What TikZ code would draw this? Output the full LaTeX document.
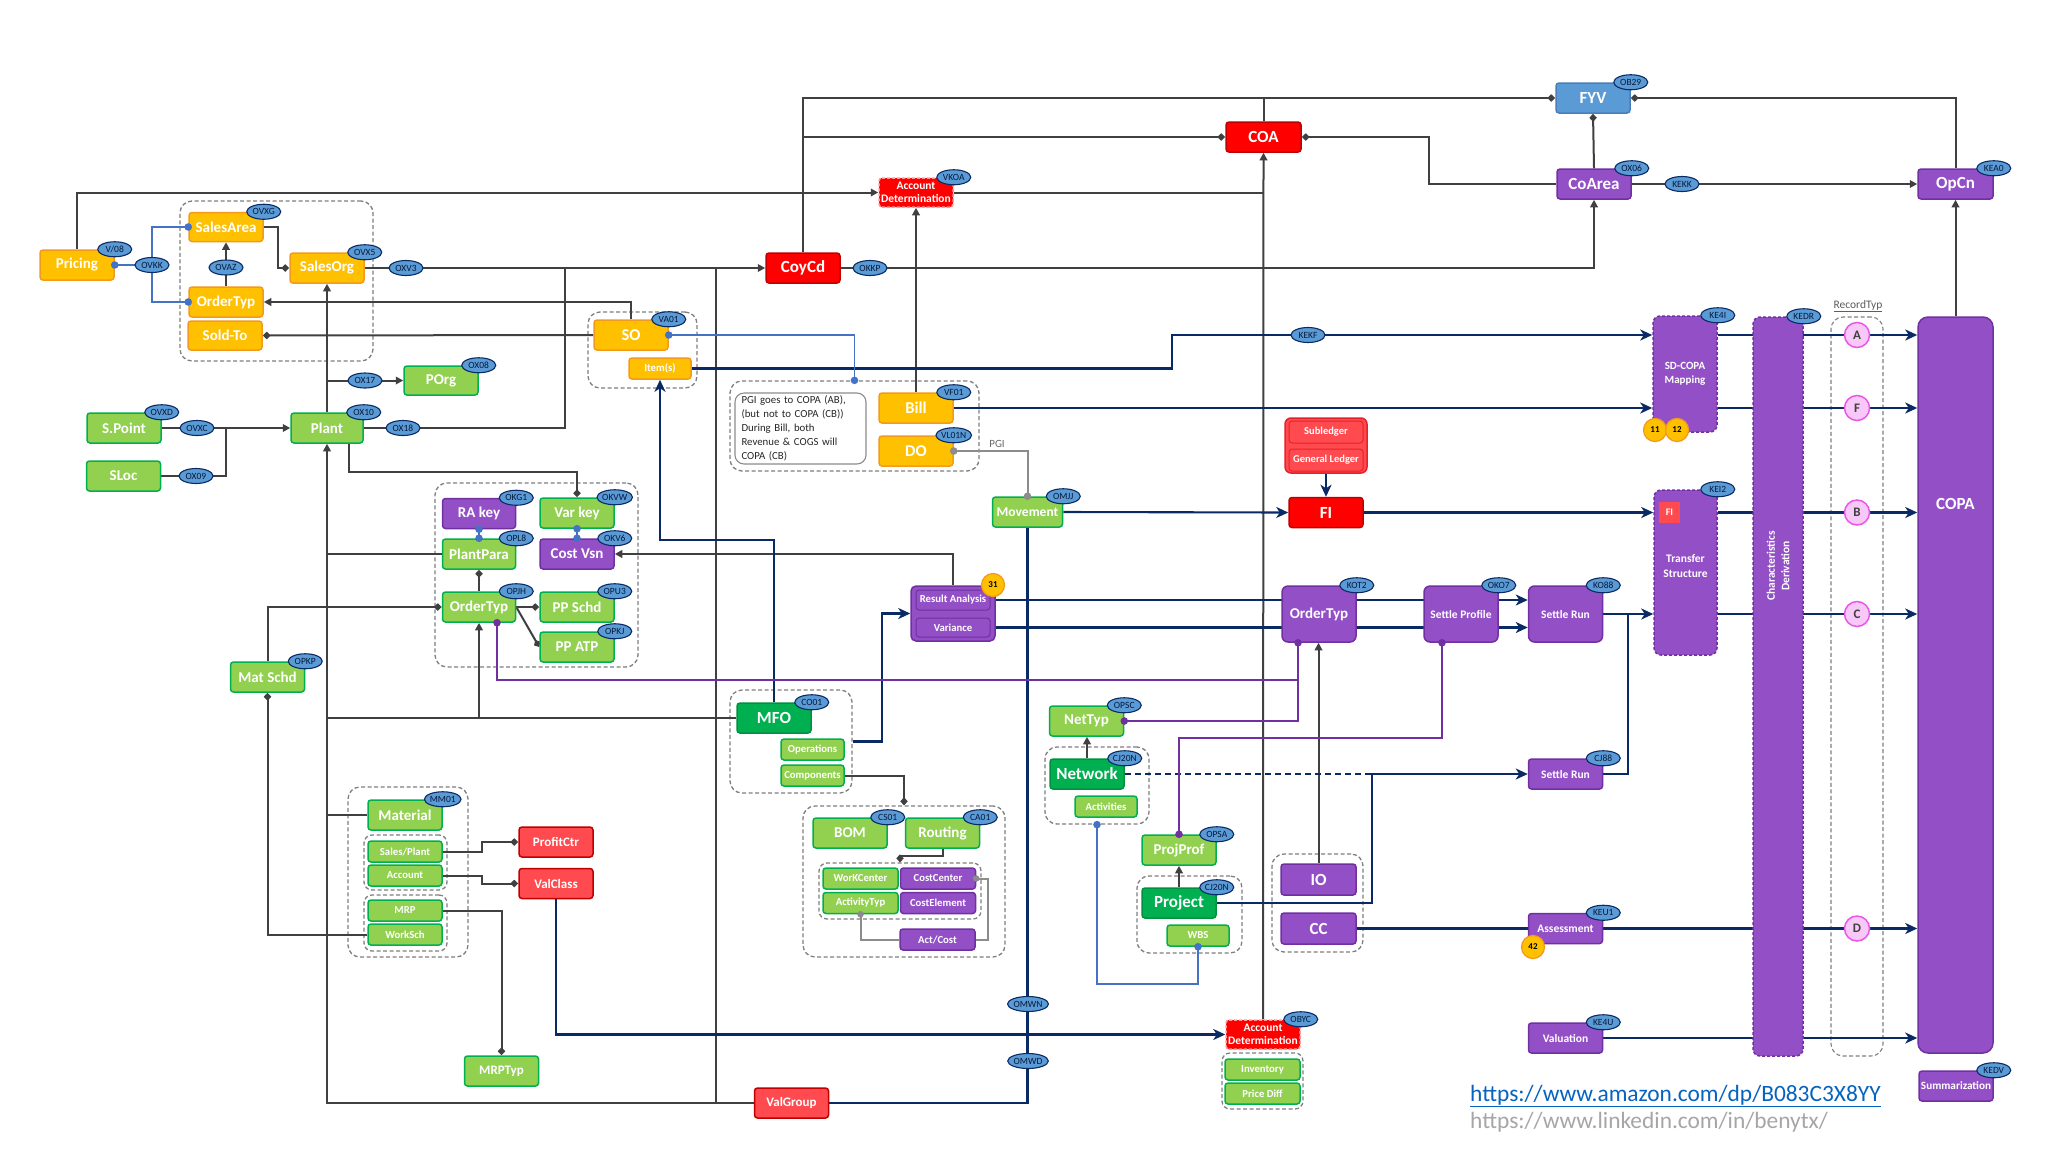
\documentclass[tikz,border=0pt]{standalone}
\usepackage{fontspec}
\setmainfont{Carlito}
\usetikzlibrary{arrows.meta,shapes.geometric}
\pgfdeclarelayer{bg}
\pgfdeclarelayer{ln}
\pgfsetlayers{bg,ln,main}
\definecolor{cOrgF}{HTML}{FFC000}
\definecolor{cOrgD}{HTML}{F39A1E}
\definecolor{cGrnF}{HTML}{92D050}
\definecolor{cGrnD}{HTML}{00B050}
\definecolor{cDgF}{HTML}{00B050}
\definecolor{cDgD}{HTML}{00913F}
\definecolor{cRedF}{HTML}{FF0000}
\definecolor{cRedD}{HTML}{C00000}
\definecolor{cLrF}{HTML}{FF4A4F}
\definecolor{cLrD}{HTML}{E8202A}
\definecolor{cPurF}{HTML}{9350C6}
\definecolor{cPurD}{HTML}{7030A0}
\definecolor{cBluF}{HTML}{5B9BD5}
\definecolor{cBluD}{HTML}{4A7EBB}
\definecolor{cTagF}{HTML}{5B9BD5}
\definecolor{cNavy}{HTML}{0A2A66}
\definecolor{cGry}{HTML}{404040}
\definecolor{cMg}{HTML}{8C8C8C}
\definecolor{cLb}{HTML}{4472C4}
\definecolor{cPl}{HTML}{7030A0}
\definecolor{cDash}{HTML}{7F7F7F}
\definecolor{cPinkF}{HTML}{F8C8F8}
\definecolor{cPinkD}{HTML}{E858E8}
\definecolor{cLink}{HTML}{0563C1}
\definecolor{cLinkG}{HTML}{A6A6A6}
\definecolor{cAdD}{HTML}{FF9A9A}
\tikzset{
  bx/.style={rectangle, rounded corners=3pt, line width=1.5pt, text=white, inner sep=0pt, align=center, minimum width=74pt, minimum height=30pt, font=\bfseries\fontsize{15}{17}\selectfont},
  sm/.style={minimum height=21pt, font=\bfseries\fontsize{10.7}{12}\selectfont},
  tall/.style={minimum height=56pt},
  f17/.style={font=\bfseries\fontsize{17}{19}\selectfont},
  f165/.style={font=\bfseries\fontsize{16.5}{18}\selectfont},
  f135/.style={font=\bfseries\fontsize{13.5}{15}\selectfont},
  f13/.style={font=\bfseries\fontsize{13}{15}\selectfont},
  f115/.style={font=\bfseries\fontsize{11.5}{13.5}\selectfont},
  ob/.style={bx, fill=cOrgF, draw=cOrgD},
  gb/.style={bx, fill=cGrnF, draw=cGrnD},
  db/.style={bx, fill=cDgF, draw=cDgD, f17},
  rb/.style={bx, fill=cRedF, draw=cRedD},
  lrb/.style={bx, fill=cLrF, draw=cRedD, f13},
  pb/.style={bx, fill=cPurF, draw=cPurD},
  adb/.style={bx, fill=cRedF, draw=cAdD, dash pattern=on 3pt off 2pt, minimum height=29pt, f115},
  tg/.style={ellipse, fill=cTagF, draw=cNavy, line width=1.1pt, minimum width=34pt, minimum height=15pt, inner sep=0pt, text=cNavy!60!black, font=\fontsize{9.5}{10}\selectfont},
  grp/.style={rectangle, draw=cDash, dash pattern=on 4pt off 2.5pt, line width=1.3pt, rounded corners=12pt, inner sep=0pt},
  gl/.style={draw=cGry, line width=2pt},
  ml/.style={draw=cMg, line width=2pt},
  nl/.style={draw=cNavy, line width=2.1pt},
  bl/.style={draw=cLb, line width=1.9pt},
  pl/.style={draw=cPl, line width=1.9pt},
  lc/.style={circle, fill=cPinkF, draw=cPinkD, line width=1.5pt, minimum size=25pt, inner sep=0pt, text=cGry, font=\bfseries\fontsize{13}{14}\selectfont},
  oc/.style={circle, fill=cOrgF, draw=cOrgD, line width=1.3pt, minimum size=23pt, inner sep=0pt, text=black, font=\bfseries\fontsize{9}{10}\selectfont},
  aT/.style={-{Triangle[length=7.5pt,width=7.5pt]}},
  aS/.style={-{Stealth[length=12pt,width=11pt,inset=3.5pt]}},
  eD/.style={-{Diamond[length=8pt,width=7.5pt]}},
  sD/.style={{Diamond[length=8pt,width=7.5pt]}-},
}
\begin{document}
\begin{tikzpicture}[x=1pt,y=-1pt]
\useasboundingbox (0,0) rectangle (2048,1152);
\begin{pgfonlayer}{bg}
\fill[white] (0,0) rectangle (2048,1152);
\node[grp, minimum width=193pt, minimum height=160pt] (sdgrp) at (276.5,281) {};
\node[grp, minimum width=109pt, minimum height=76pt] (sogrp) at (642.5,350) {};
\node[grp, minimum width=249pt, minimum height=90pt] (billgrp) at (854.5,426) {};
\node[grp, minimum width=203pt, minimum height=184pt] (ppgrp) at (536.5,575) {};
\node[grp, minimum width=122pt, minimum height=103pt] (mfogrp) at (791,741.5) {};
\node[grp, minimum width=202pt, minimum height=151pt] (bomgrp) at (904,881.5) {};
\node[grp, minimum width=162pt, minimum height=56pt, rounded corners=8pt] (innergrp) at (900,891) {};
\node[grp, minimum width=120pt, minimum height=170pt] (matgrp) at (408,872) {};
\node[grp, minimum width=83pt, minimum height=55pt, rounded corners=8pt] (matin1) at (405.5,862.5) {};
\node[grp, minimum width=83pt, minimum height=56pt, rounded corners=8pt] (matin2) at (405.5,923) {};
\node[grp, minimum width=104pt, minimum height=77pt] (netgrp) at (1097,785.5) {};
\node[grp, minimum width=105pt, minimum height=77pt] (projgrp) at (1189.5,914.5) {};
\node[grp, minimum width=91pt, minimum height=98pt] (iogrp) at (1317.5,903) {};
\node[grp, minimum width=81pt, minimum height=56pt, rounded corners=8pt] (invgrp) at (1262.5,1081) {};
\node[grp, minimum width=52pt, minimum height=739pt, line width=1.1pt] (rectyp) at (1857,686.5) {};
\end{pgfonlayer}

% ---------- SD ----------
\node[ob] (pricing) at (77,265) {Pricing};
\node[ob, minimum height=29pt] (salesarea) at (226,227) {SalesArea};
\node[ob] (sdordertyp) at (226,302) {OrderTyp};
\node[ob, minimum height=29pt] (soldto) at (225,335.5) {Sold-To};
\node[ob] (salesorg) at (327,268) {SalesOrg};
\node[ob, f165] (so) at (631,335) {SO};
\node[ob, sm, minimum width=62pt] (items) at (660,368.5) {Item(s)};
\node[ob, f165] (bill) at (916,408) {Bill};
\node[ob, f165] (dlv) at (916,451) {DO};
\node[draw=cMg, line width=1.1pt, rounded corners=9pt, fill=white, minimum width=131pt, minimum height=71pt, text width=118pt, align=left, inner sep=0pt, font=\fontsize{10.8}{14}\selectfont, text=black!85] (note) at (800.5,428.5) {PGI goes to COPA (AB),\\(but not to COPA (CB))\\During Bill, both\\Revenue \& COGS will\\COPA (CB)};
% ---------- MM / PP ----------
\node[gb] (spoint) at (124,428) {S.Point};
\node[gb] (sloc) at (123.5,476) {SLoc};
\node[gb, minimum width=72pt] (plant) at (327,428) {Plant};
\node[gb, minimum height=29pt] (porg) at (441,380.5) {POrg};
\node[pb, minimum width=73pt] (rakey) at (479,513.5) {RA key};
\node[gb] (varkey) at (577,513) {Var key};
\node[gb, minimum width=73pt] (plantpara) at (479,554) {PlantPara};
\node[pb] (costvsn) at (577,554) {Cost Vsn};
\node[gb, minimum width=73pt] (ppordertyp) at (479,607) {OrderTyp};
\node[gb] (ppschd) at (577,607) {PP Schd};
\node[gb] (ppatp) at (577,647) {PP ATP};
\node[gb] (matschd) at (267.5,677) {Mat Schd};
\node[gb] (material) at (405,815) {Material};
\node[gb, sm] (salesplant) at (405,851.5) {Sales/Plant};
\node[gb, sm] (account) at (405,875.5) {Account};
\node[gb, sm] (mrp) at (405,910.5) {MRP};
\node[gb, sm] (worksch) at (405,934.5) {WorkSch};
\node[gb, f13] (mrptyp) at (501.5,1071) {MRPTyp};
\node[lrb] (profitctr) at (556,842) {ProfitCtr};
\node[lrb] (valclass) at (556,883.5) {ValClass};
\node[lrb] (valgroup) at (791.5,1103) {ValGroup};
\node[db] (mfo) at (774,718) {MFO};
\node[gb, sm, minimum width=63pt] (operations) at (812.5,749.5) {Operations};
\node[gb, sm, minimum width=63pt] (components) at (812.5,775.5) {Components};
\node[gb] (bom) at (850,833) {BOM};
\node[gb] (routing) at (942.5,833) {Routing};
\node[gb, sm, minimum width=75pt] (workcenter) at (860.5,878.5) {WorKCenter};
\node[pb, sm, minimum width=75pt] (costcenter) at (938,878.5) {CostCenter};
\node[gb, sm, minimum width=75pt] (activitytyp) at (860.5,903) {ActivityTyp};
\node[pb, sm, minimum width=75pt] (costelement) at (938,903) {CostElement};
\node[pb, sm, minimum width=75pt] (actcost) at (937.5,939.5) {Act/Cost};
% ---------- FI ----------
\node[rb, f17] (coycd) at (803,268) {CoyCd};
\node[rb, f17, minimum width=75pt] (coa) at (1263.5,137) {COA};
\node[adb] (accdet1) at (916,192.5) {Account\\Determination};
\node[adb] (accdet2) at (1263,1034.5) {Account\\Determination};
\node[gb, sm, minimum width=75pt] (inventory) at (1262.5,1069.5) {Inventory};
\node[gb, sm, minimum width=75pt] (pricediff) at (1262.5,1093.5) {Price Diff};
\node[gb, f135, minimum width=70pt] (movement) at (1027.5,512) {Movement};
\node[rb, f17] (fi) at (1326,512.5) {FI};
\node[bx, fill=cLrF, draw=cLrD, minimum width=82pt, minimum height=55pt, rounded corners=6pt] (ledger) at (1326,445.5) {};
\node[bx, fill=cLrF, draw=cLrD, line width=1pt, minimum width=74pt, minimum height=22pt, font=\bfseries\fontsize{10.5}{12}\selectfont] (subledger) at (1326,432) {Subledger};
\node[bx, fill=cLrF, draw=cLrD, line width=1pt, minimum width=74pt, minimum height=22pt, font=\bfseries\fontsize{10.5}{12}\selectfont] (genledger) at (1326,460) {General Ledger};
% ---------- CO ----------
\node[bx, fill=cBluF, draw=cBluD, f17] (fyv) at (1593,98) {FYV};
\node[pb, f17] (coarea) at (1594,184) {CoArea};
\node[pb, f17, minimum width=75pt] (opcn) at (1955.5,184) {OpCn};
\node[pb, minimum width=84pt, minimum height=55pt, rounded corners=5pt] (ragrp) at (953,613.5) {};
\node[pb, sm, line width=1pt, minimum height=20pt] (resan) at (953,600) {Result Analysis};
\node[pb, sm, line width=1pt, minimum height=19pt] (variance) at (953,627.5) {Variance};
\node[pb, tall, rounded corners=6pt] (cotyp) at (1319,614) {OrderTyp};
\node[pb, tall, f115, rounded corners=6pt] (settleprofile) at (1461,614) {Settle Profile};
\node[pb, tall, f115, rounded corners=6pt] (settlerun1) at (1565.5,614) {Settle Run};
\node[pb, f115] (settlerun2) at (1565.5,774) {Settle Run};
\node[gb] (nettyp) at (1086.5,721) {NetTyp};
\node[db] (network) at (1087,774) {Network};
\node[gb, sm, minimum width=62pt] (activities) at (1106,806.5) {Activities};
\node[gb] (projprof) at (1179,850) {ProjProf};
\node[db] (project) at (1179,903) {Project};
\node[gb, sm, minimum width=62pt] (wbs) at (1198,935.5) {WBS};
\node[pb, f17, minimum width=75pt, minimum height=31pt] (io) at (1318.5,879.5) {IO};
\node[pb, f17, minimum width=75pt, minimum height=31pt] (cc) at (1318.5,928.5) {CC};
\node[pb, f115] (assessment) at (1565.5,928.5) {Assessment};
\node[pb, f115] (valuation) at (1565.5,1038) {Valuation};
\node[pb, font=\bfseries\fontsize{11.2}{13}\selectfont] (summarization) at (1956,1086) {Summarization};
% ---------- COPA block ----------
\node[pb, minimum width=64pt, minimum height=116pt, rounded corners=7pt, dash pattern=on 3pt off 2pt, font=\bfseries\fontsize{11}{13.5}\selectfont] (sdcopa) at (1685,374) {SD-COPA\\Mapping};
\node[pb, minimum width=63pt, minimum height=165pt, rounded corners=7pt, dash pattern=on 3pt off 2pt] (transfer) at (1685.5,572.5) {};
\node[text=white, align=center, inner sep=0pt, font=\bfseries\fontsize{11.5}{14.5}\selectfont] (transtxt) at (1685.5,566) {Transfer\\Structure};
\node[fill=cLrF, minimum size=21pt, inner sep=0pt, text=white, font=\bfseries\fontsize{10}{11}\selectfont] (fibadge) at (1669.5,512.5) {FI};
\node[pb, minimum width=50pt, minimum height=739pt, rounded corners=7pt, dash pattern=on 3pt off 2pt] (charder) at (1778,686.5) {};
\node[rotate=90, text=white, align=center, inner sep=0pt, font=\bfseries\fontsize{11.5}{14.5}\selectfont] (chartxt) at (1778,566) {Characteristics\\Derivation};
\node[pb, minimum width=75pt, minimum height=736pt, rounded corners=10pt] (copa) at (1955.5,685) {};
\node[text=white, inner sep=0pt, f17] (copatxt) at (1955.5,504) {COPA};

% ---------- tags on boxes ----------
\node[tg] (t1) at (pricing.north east) {V/08};
\node[tg] (t2) at (salesarea.north east) {OVXG};
\node[tg] (t3) at (salesorg.north east) {OVX5};
\node[tg] (t4) at (so.north east) {VA01};
\node[tg] (t5) at (bill.north east) {VF01};
\node[tg] (t6) at (dlv.north east) {VL01N};
\node[tg] (t7) at (accdet1.north east) {VKOA};
\node[tg] (t8) at (spoint.north east) {OVXD};
\node[tg] (t9) at (plant.north east) {OX10};
\node[tg] (t10) at (porg.north east) {OX08};
\node[tg] (t11) at (rakey.north east) {OKG1};
\node[tg] (t12) at (varkey.north east) {OKVW};
\node[tg] (t13) at (plantpara.north east) {OPL8};
\node[tg] (t14) at (costvsn.north east) {OKV6};
\node[tg] (t15) at (ppordertyp.north east) {OPJH};
\node[tg] (t16) at (ppschd.north east) {OPU3};
\node[tg] (t17) at (ppatp.north east) {OPKJ};
\node[tg] (t18) at (matschd.north east) {OPKP};
\node[tg] (t19) at (material.north east) {MM01};
\node[tg] (t20) at (mfo.north east) {CO01};
\node[tg] (t21) at (bom.north east) {CS01};
\node[tg] (t22) at (routing.north east) {CA01};
\node[tg] (t23) at (movement.north east) {OMJJ};
\node[tg] (t24) at (nettyp.north east) {OPSC};
\node[tg] (t25) at (network.north east) {CJ20N};
\node[tg] (t26) at (projprof.north east) {OPSA};
\node[tg] (t27) at (project.north east) {CJ20N};
\node[tg] (t28) at (accdet2.north east) {OBYC};
\node[tg] (t29) at (fyv.north east) {OB29};
\node[tg] (t30) at (coarea.north east) {OX06};
\node[tg] (t31) at (opcn.north east) {KEA0};
\node[tg] (t32) at (sdcopa.north east) {KE4I};
\node[tg] (t33) at (charder.north east) {KEDR};
\node[tg] (t34) at (transfer.north east) {KEI2};
\node[tg] (t35) at (cotyp.north east) {KOT2};
\node[tg] (t36) at (settleprofile.north east) {OKO7};
\node[tg] (t37) at (settlerun1.north east) {KO88};
\node[tg] (t38) at (settlerun2.north east) {CJ88};
\node[tg] (t39) at (assessment.north east) {KEU1};
\node[tg] (t40) at (valuation.north east) {KE4U};
\node[tg] (t41) at (summarization.north east) {KEDV};
% ---------- tags on lines ----------
\node[tg] (ovkk) at (152,265) {OVKK};
\node[tg] (ovaz) at (226,267.5) {OVAZ};
\node[tg] (oxv3) at (406,268) {OXV3};
\node[tg] (ox17) at (365,380.5) {OX17};
\node[tg] (ox18) at (403,428) {OX18};
\node[tg] (ovxc) at (197,428) {OVXC};
\node[tg] (ox09) at (196,476) {OX09};
\node[tg] (okkp) at (870,268) {OKKP};
\node[tg] (kekf) at (1308,335) {KEKF};
\node[tg] (kekk) at (1682,184) {KEKK};
\node[tg] (omwn) at (1028,1004) {OMWN};
\node[tg] (omwd) at (1028,1061) {OMWD};
% ---------- circles ----------
\node[lc] (lA) at (1857,335) {A};
\node[lc] (lF) at (1857,408) {F};
\node[lc] (lB) at (1857,512.5) {B};
\node[lc] (lC) at (1857,614) {C};
\node[lc] (lD) at (1857,928.5) {D};
\node[oc] (n11) at (1655,430) {11};
\node[oc] (n12) at (1677,430) {12};
\node[oc] (n31) at (993,585) {31};
\node[oc] (n42) at (1533,947) {42};
% ---------- labels ----------
\node[text=cGry!80, font=\fontsize{11}{12}\selectfont] (pgi) at (997,444) {PGI};
\node[text=cGry!85, font=\fontsize{11.5}{13}\selectfont] (rtlab) at (1858,306) {\underline{RecordTyp}};
\node[anchor=base west, inner sep=0pt, text=cLink, font=\fontsize{23.4}{26}\selectfont] (amazon) at (1470,1101) {\underline{https://www.amazon.com/dp/B083C3X8YY}};
\node[anchor=base west, inner sep=0pt, text=cLinkG, font=\fontsize{23.4}{26}\selectfont] (linkedin) at (1470,1128) {https://www.linkedin.com/in/benytx/};

% ---------- dots on box edges ----------
\foreach \p in {pricing.east, salesarea.west, sdordertyp.west, so.east, billgrp.north, rakey.south, plantpara.north, varkey.south, costvsn.north, netgrp.south, wbs.south}
  \fill[cLb] (\p) circle[radius=3.8pt];
\fill[cPl] ([xshift=18pt]ppordertyp.south) circle[radius=3.8pt];
\fill[cPl] ([xshift=-21pt]cotyp.south) circle[radius=3.8pt];
\fill[cPl] (nettyp.east) circle[radius=3.8pt];
\fill[cPl] ([xshift=-19pt]settleprofile.south) circle[radius=3.8pt];
\fill[cPl] (projprof.north) circle[radius=3.8pt];
\fill[cMg] (dlv.east) circle[radius=3.8pt];
\fill[cMg] (movement.north) circle[radius=3.8pt];
\fill[cMg] (activitytyp.south) circle[radius=3.3pt];
\fill[cMg] (costcenter.east) circle[radius=3.3pt];

\begin{pgfonlayer}{ln}
% grey
\draw[gl, aT] (pricing.north) |- (accdet1.west);
\draw[gl] (accdet1.east) -- (accdet1.east -| coa.north);
\draw[gl, eD] (coycd.north) |- (fyv.west);
\draw[gl, eD] (coycd.north |- coa.west) -- (coa.west);
\draw[gl] (coa.north) -- (coa.north |- fyv.west);
\draw[gl, sD] (coa.east) -- ++(127,0) |- (coarea.west);
\draw[gl, eD] (coarea.north) -- (fyv.south);
\draw[gl, sD] (fyv.east) -| (opcn.north);
\draw[gl, aT] (coarea.east) -- (opcn.west);
\draw[gl, aT] (copa.north) -- (opcn.south);
\draw[gl, aT] (coycd.east) -| (coarea.south);
\draw[gl, aT] (salesorg.east) -- (coycd.west);
\draw[gl] (plant.east) -| (565,268);
\draw[gl, eD] (salesarea.east) -- ++(14,0) |- (salesorg.west);
\draw[gl, aT] (sdordertyp.north) -- (salesarea.south);
\draw[gl, aT] (so.north) |- (sdordertyp.east);
\draw[gl, sD] (soldto.east) -- (so.west);
\draw[gl, aT] (plant.north) -- (salesorg.south);
\draw[gl, aT] (plant.north |- porg.west) -- (porg.west);
\draw[gl, aT] (spoint.east) -- (plant.west);
\draw[gl] (sloc.east) -| (226,428);
\draw[gl, eD] ([xshift=22pt]plant.south) -- ++(0,28) -| (varkey.north);
\draw[gl, aT] (bill.north) -- (accdet1.south);
\draw[gl, aT] (valgroup.west) -| (plant.south);
\draw[gl] (plant.south |- plantpara.west) -- (plantpara.west);
\draw[gl] (plant.south |- mfo.west) -- (mfo.west);
\draw[gl] (plant.south |- material.west) -- (material.west);
\draw[gl, aT] (ppordertyp.south |- mfo.west) -- (ppordertyp.south);
\draw[gl] (716,268) -- (716,1103);
\draw[gl, eD] (matschd.north) |- (ppordertyp.west);
\draw[gl, eD] (worksch.west) -| (matschd.south);
\draw[gl, eD] (ppordertyp.north) -- (plantpara.south);
\draw[gl, eD] (ppordertyp.east) -- (ppschd.west);
\draw[gl, eD] (ppordertyp.east) -- (ppatp.west);
\draw[gl, eD] (components.east) -| (bomgrp.north);
\draw[gl, eD] (routing.south) -- ++(0,7) -| (innergrp.north);
\draw[ml] (actcost.west) -| (activitytyp.south);
\draw[ml] (actcost.east) -- ++(12,0) |- (costcenter.east);
\draw[gl, eD] (salesplant.east) -- ++(39,0) |- (profitctr.west);
\draw[gl, eD] (account.east) -- ++(39,0) |- (valclass.west);
\draw[gl, eD] (mrp.east) -| (mrptyp.north);
\draw[gl, aT] (ragrp.north) |- (costvsn.east);
\draw[gl, aT] (io.north) -- (io.north |- cotyp.south);
\draw[gl, aT] (accdet2.north) -- (coa.south);
\draw[gl, aT] (network.north) -- (network.north |- nettyp.south);
\draw[gl, aT] (project.north) -- (projprof.south);
\draw[ml] (dlv.east) -| (movement.north);
% navy
\draw[nl, aS] (items.east) -- (1172,368.5) -- (1172,335) -- (sdcopa.west |- lA);
\draw[nl, aS] (bill.east) -- (sdcopa.west |- bill.east);
\draw[nl, aS] (sdcopa.east |- lA) -- (copa.west |- lA);
\draw[nl, aS] (sdcopa.east |- lF) -- (copa.west |- lF);
\draw[nl, aS] (movement.east) -- (fi.west);
\draw[nl, aS] (fi.east) -- (transfer.west |- fi.east);
\draw[nl, aS] (transfer.east |- lB) -- (copa.west |- lB);
\draw[nl, aS] (resan.east) -- (settlerun1.west |- resan.east);
\draw[nl, aS] (variance.east) -- (settlerun1.west |- variance.east);
\draw[nl, aS] (settlerun1.east) -- (transfer.west |- settlerun1.east);
\draw[nl, aS] (transfer.east |- lC) -- (copa.west |- lC);
\draw[nl] (settlerun2.east) -| ([xshift=25pt]settlerun1.east);
\draw[nl, dash pattern=on 6pt off 4pt] (network.east) -- (1372,774);
\draw[nl, aS] (project.east) -| (1372,774) -- (settlerun2.west);
\draw[nl] (cc.east) -- (assessment.west);
\draw[nl, aS] (assessment.east) -- (copa.west |- lD);
\draw[nl, aS] (valuation.east) -- (copa.west |- valuation.east);
\draw[nl] (movement.south) |- (valgroup.east);
\draw[nl, aS] (valclass.south) |- (accdet2.west);
\draw[nl, aS] (ledger.south) -- (fi.north);
\draw[nl, aS] (mfogrp.east) -- ++(29,0) |- (ragrp.west);
\draw[nl, aS] (mfo.north) -- ++(0,-162) -| (items.south);
% light blue
\draw[bl] (pricing.east) -- (ovkk.center);
\draw[bl] (ovkk.center) |- (salesarea.west);
\draw[bl] (ovkk.center) |- (sdordertyp.west);
\draw[bl] (so.east) -| (billgrp.north);
\draw[bl] (rakey.south) -- (plantpara.north);
\draw[bl] (varkey.south) -- (costvsn.north);
\draw[bl] (netgrp.south) -- ++(0,159) -| (wbs.south);
% purple
\draw[pl] ([xshift=18pt]ppordertyp.south) -- ++(0,57) -| ([xshift=-21pt]cotyp.south);
\draw[pl] (nettyp.east) -| ([xshift=-21pt]cotyp.south);
\draw[pl] ([xshift=-19pt]settleprofile.south) -- ++(0,95) -| (projprof.north);
\end{pgfonlayer}
\end{tikzpicture}
\end{document}
